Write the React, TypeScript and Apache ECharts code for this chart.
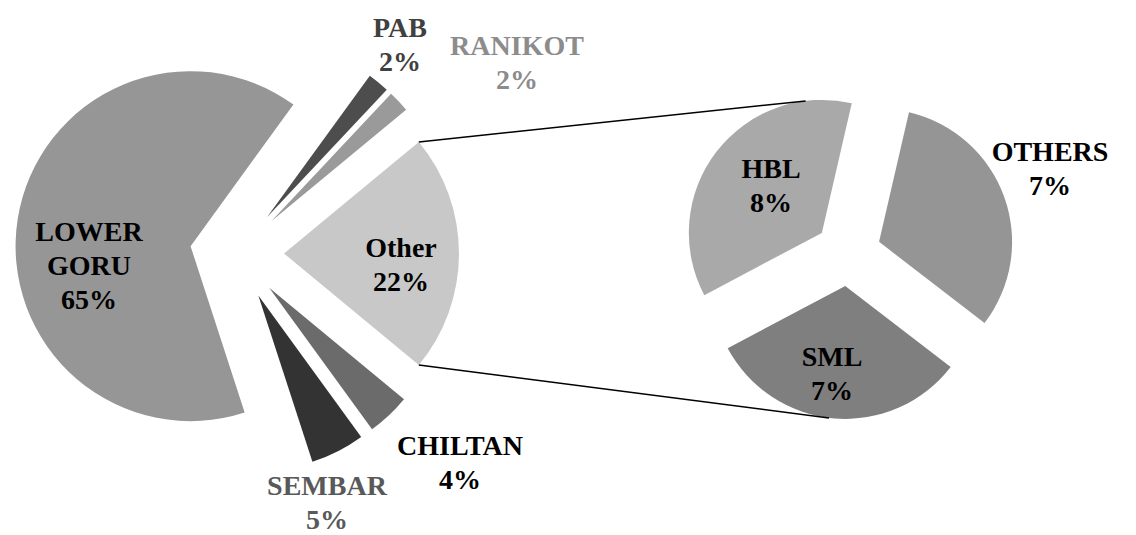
import React, { useEffect, useRef } from 'react';
import * as echarts from 'echarts';

// primary pie (clockwise from the "Other" slice)
const leftNames = ['Other', 'CHILTAN', 'SEMBAR', 'LOWER GORU', 'PAB', 'RANIKOT'];
const leftValues = [22, 4, 5, 65, 2, 2];
// secondary pie, breakdown of "Other"
const rightNames = ['OTHERS', 'SML', 'HBL'];
const rightValues = [7, 7, 8];

const leftColors = ['#c8c8c8', '#6b6b6b', '#333333', '#969696', '#4d4d4d', '#9a9a9a'];
const leftLabelColors = ['#000', '#000', '#595959', '#000', '#404040', '#8c8c8c'];
const rightColors = ['#959595', '#7f7f7f', '#a9a9a9'];

// layout (pixels)
const L = { cx: 237, cy: 253.5, r: 175, off: 47 };
const R = { cx: 848, cy: 253, r: 133, off: 33, start: 77 };
const leftLabelPos = [[401, 264], [460, 462], [327, 502], [89, 265], [400, 44], [517, 62]];
const rightLabelPos = [[1050, 168], [832, 373], [771, 185]];

const FONT = 'Liberation Serif';

const rad = (a: number) => (a * Math.PI) / 180;

// mid angles (math convention, degrees) of slices drawn clockwise from start
const midAngles = (values: number[], start: number) => {
  const total = values.reduce((s, v) => s + v, 0);
  let a = start;
  return values.map((v) => {
    const span = (v / total) * 360;
    const mid = a - span / 2;
    a -= span;
    return mid;
  });
};

const pt = (cx: number, cy: number, r: number, ang: number) => [
  cx + r * Math.cos(rad(ang)),
  cy - r * Math.sin(rad(ang)),
];

const labelText = (name: string, value: number) => `${name.replace(' ', '\n')}\n${value}%`;

const makeLabel = (text: string, pos: number[], color: string) => ({
  type: 'text',
  z: 20,
  x: pos[0],
  y: pos[1],
  style: {
    text,
    fill: color,
    fontFamily: FONT,
    fontWeight: 'bold',
    fontSize: 28,
    lineHeight: 34,
    align: 'center',
    verticalAlign: 'middle',
  },
});

const App: React.FC = () => {
  const chartRef = useRef<HTMLDivElement>(null);

  useEffect(() => {
    if (!chartRef.current) return;
    const chart = echarts.init(chartRef.current, null, { renderer: 'svg' });

    const leftTotal = leftValues.reduce((s, v) => s + v, 0);
    const leftStart = ((leftValues[0] / leftTotal) * 360) / 2;
    const leftMid = midAngles(leftValues, leftStart);
    const rightMid = midAngles(rightValues, R.start);

    // connector lines from "Other" corners to the secondary pie
    const otherC = pt(L.cx, L.cy, L.off, leftMid[0]);
    const topL = pt(otherC[0], otherC[1], L.r, leftStart);
    const botL = pt(otherC[0], otherC[1], L.r, -leftStart);
    const hblC = pt(R.cx, R.cy, R.off, rightMid[2]);
    const smlC = pt(R.cx, R.cy, R.off, rightMid[1]);
    const topR = pt(hblC[0], hblC[1], R.r, 97);
    const botR = pt(smlC[0], smlC[1], R.r, 263);

    const pieBase = {
      type: 'pie',
      clockwise: true,
      selectedMode: 'multiple',
      avoidLabelOverlap: false,
      silent: true,
      label: { show: false },
      labelLine: { show: false },
      itemStyle: { borderWidth: 0 },
      select: { itemStyle: { borderWidth: 0 }, label: { show: false } },
    };

    const option = {
      animation: false,
      backgroundColor: '#fff',
      series: [
        {
          ...pieBase,
          center: [L.cx, L.cy],
          radius: [0, L.r],
          startAngle: leftStart,
          selectedOffset: L.off,
          data: leftNames.map((name, i) => ({
            name,
            value: leftValues[i],
            selected: true,
            itemStyle: { color: leftColors[i] },
            select: { itemStyle: { color: leftColors[i] } },
          })),
        },
        {
          ...pieBase,
          center: [R.cx, R.cy],
          radius: [0, R.r],
          startAngle: R.start,
          selectedOffset: R.off,
          data: rightNames.map((name, i) => ({
            name,
            value: rightValues[i],
            selected: true,
            itemStyle: { color: rightColors[i] },
            select: { itemStyle: { color: rightColors[i] } },
          })),
        },
      ],
      graphic: [
        {
          type: 'line',
          z: 10,
          shape: { x1: topL[0], y1: topL[1], x2: topR[0], y2: topR[1] },
          style: { stroke: '#000', lineWidth: 1.5 },
        },
        {
          type: 'line',
          z: 10,
          shape: { x1: botL[0], y1: botL[1], x2: botR[0], y2: botR[1] },
          style: { stroke: '#000', lineWidth: 1.5 },
        },
        ...leftNames.map((n, i) =>
          makeLabel(labelText(n, leftValues[i]), leftLabelPos[i], leftLabelColors[i])
        ),
        ...rightNames.map((n, i) => makeLabel(labelText(n, rightValues[i]), rightLabelPos[i], '#000')),
      ],
    };

    chart.setOption(option as any);
    return () => {
      chart.dispose();
    };
  }, []);

  return (
    <div
      ref={chartRef}
      style={{ position: 'absolute', left: 0, top: 0, width: 1136, height: 535 }}
    />
  );
};

export default App;
